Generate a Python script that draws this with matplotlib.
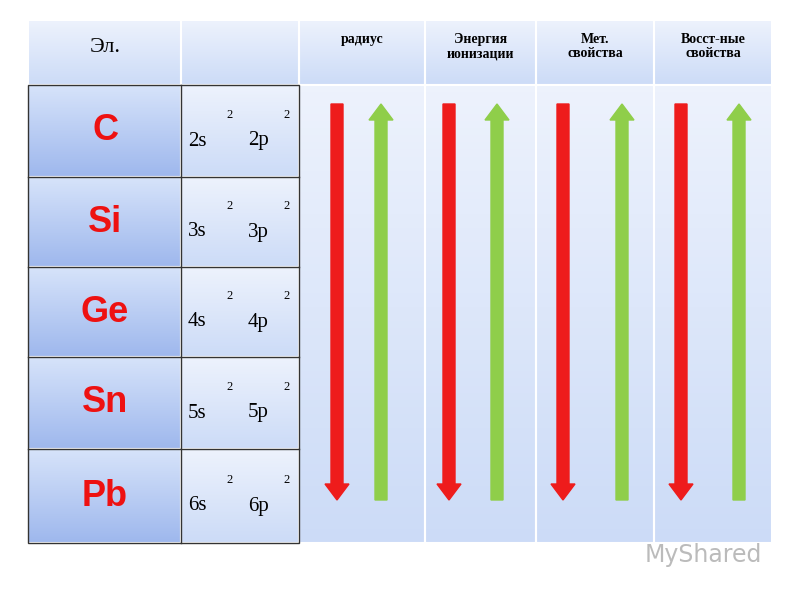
import matplotlib.pyplot as plt
import numpy as np
from matplotlib.patches import Rectangle, FancyArrow

elements = ['C', 'Si', 'Ge', 'Sn', 'Pb']
periods = [2, 3, 4, 5, 6]
headers = ['радиус', 'Энергия\nионизации', 'Мет.\nсвойства', 'Восст-ные\nсвойства']

col_x = [28, 181, 299, 425, 536, 654, 772]
row_y = [20, 85, 177, 267, 357, 449, 543]

fig = plt.figure(figsize=(8, 6), dpi=100)
ax = fig.add_axes([0, 0, 1, 1])
ax.set_xlim(0, 800)
ax.set_ylim(600, 0)
ax.axis('off')

def grad_cell(x0, x1, y0, y1, c_top, c_bot):
    g = np.linspace(0, 1, 64)[:, None, None]
    img = np.array(c_top)[None, None, :] * (1 - g) + np.array(c_bot)[None, None, :] * g
    ax.imshow(img, extent=(x0, x1, y1, y0), aspect='auto', zorder=1)
    ax.add_patch(Rectangle((x0, y0), x1 - x0, y1 - y0, fill=False, ec='white', lw=1.5, zorder=2))

light_top, light_bot = (0.93, 0.95, 0.99), (0.80, 0.86, 0.97)
dark_top, dark_bot = (0.84, 0.89, 0.98), (0.62, 0.72, 0.93)

# header row
for i in range(6):
    grad_cell(col_x[i], col_x[i + 1], row_y[0], row_y[1], light_top, light_bot)
# left columns
for r in range(5):
    grad_cell(col_x[0], col_x[1], row_y[r + 1], row_y[r + 2], dark_top, dark_bot)
    grad_cell(col_x[1], col_x[2], row_y[r + 1], row_y[r + 2], light_top, light_bot)
# right area: one tall cell per column
for i in range(2, 6):
    grad_cell(col_x[i], col_x[i + 1], row_y[1], row_y[-1], light_top, light_bot)

ax.add_patch(Rectangle((col_x[0], row_y[1]), col_x[2] - col_x[0], row_y[-1] - row_y[1],
                       fill=False, ec='#333333', lw=1, zorder=3))
ax.plot([col_x[1], col_x[1]], [row_y[1], row_y[-1]], color='#333333', lw=1, zorder=3)
for y in row_y[2:-1]:
    ax.plot([col_x[0], col_x[2]], [y, y], color='#333333', lw=1, zorder=3)

serif = 'Liberation Serif'
ax.text(105, 47, 'Эл.', fontsize=16, ha='center', va='center', family=serif, zorder=4)
for i, h in enumerate(headers):
    ax.text((col_x[i + 2] + col_x[i + 3]) / 2, 33, h, fontsize=10, fontweight='bold',
            ha='center', va='top', linespacing=1.1, family=serif, zorder=4)

for r, (el, n) in enumerate(zip(elements, periods)):
    yc = (row_y[r + 1] + row_y[r + 2]) / 2
    ax.text(105, yc, el, color='#ee1111', fontsize=26, fontweight='bold',
            ha='center', va='center', family='Liberation Sans', zorder=4)
    ax.text(188, yc + 10, f'{n}s', fontsize=15, va='center', family=serif, zorder=4)
    ax.text(248, yc + 10, f'{n}p', fontsize=15, va='center', family=serif, zorder=4)
    ax.text(226, yc - 16, '2', fontsize=9, va='center', family=serif, zorder=4)
    ax.text(283, yc - 16, '2', fontsize=9, va='center', family=serif, zorder=4)

red_x = [337, 449, 563, 681]
green_x = [381, 497, 622, 739]
for rx, gx in zip(red_x, green_x):
    ax.add_patch(FancyArrow(rx, 104, 0, 396, width=12, head_width=24, head_length=16,
                            length_includes_head=True, color='#ee1c1c', zorder=4))
    ax.add_patch(FancyArrow(gx, 500, 0, -396, width=12, head_width=24, head_length=16,
                            length_includes_head=True, color='#8fce4a', zorder=4))

ax.text(645, 555, 'MyShared', fontsize=17, color='#bbbbbb', va='center', zorder=4)

fig.savefig('out.png', dpi=100)
